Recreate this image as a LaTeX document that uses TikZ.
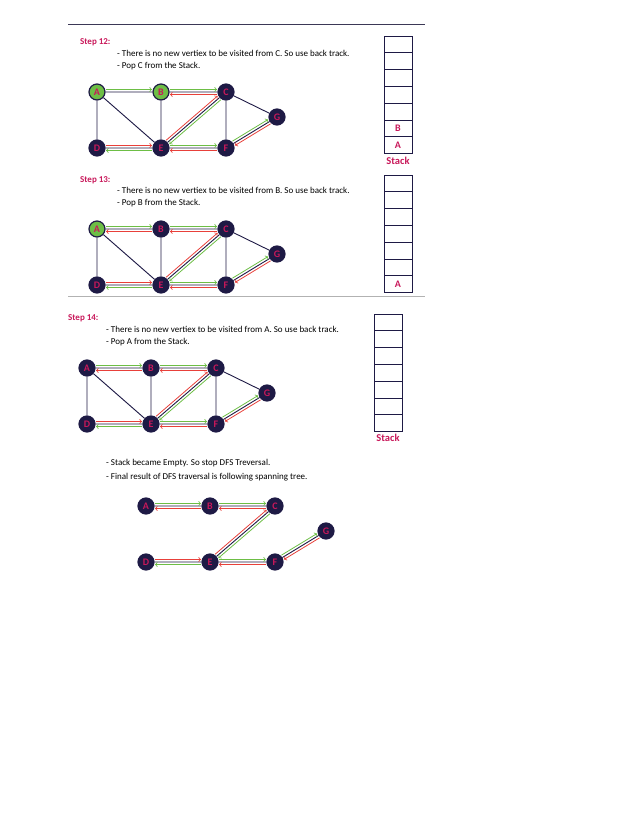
\documentclass[tikz,border=0pt]{standalone}
\usepackage{fontspec}
\setmainfont{Carlito}
\usetikzlibrary{calc}
\definecolor{crim}{HTML}{C8185A}
\definecolor{navy}{HTML}{1E1A45}
\definecolor{grn}{HTML}{6DBE45}
\definecolor{rd}{HTML}{E8403A}
\tikzset{
 vtx/.style={circle,draw=navy,line width=1.2pt,fill=navy,minimum size=16pt,inner sep=0pt,text=crim,font=\bfseries\fontsize{10}{10}\selectfont},
 vis/.style={vtx,fill=grn},
 edg/.style={navy,line width=0.9pt},
 tarr/.style={->,line width=0.8pt,shorten >=9pt,shorten <=9pt},
 txt/.style={anchor=west,font=\fontsize{9}{10}\selectfont,inner sep=0pt},
 stp/.style={anchor=west,font=\bfseries\fontsize{9}{10}\selectfont,text=crim,inner sep=0pt},
 cell/.style={draw=navy,line width=0.9pt,minimum width=28pt,minimum height=16.8pt,inner sep=0pt,text=crim,font=\bfseries\fontsize{10}{10}\selectfont},
 stk/.style={text=crim,font=\bfseries\fontsize{10.5}{10}\selectfont}
}
\newcommand\prr[4]{\draw[tarr,#3] ($(#1)!2.5pt!90:(#2)$) -- ($(#2)!2.5pt!-90:(#1)$);}
\newcommand\dfsg[7]{%
\begin{scope}[shift={(#2,#3)}]
 \node[#4] (#1A) at (0,0) {A};
 \node[#5] (#1B) at (64,0) {B};
 \node[vtx] (#1C) at (129,0) {C};
 \node[vtx] (#1G) at (180,25) {G};
 \node[vtx] (#1D) at (0,56) {D};
 \node[vtx] (#1E) at (64,56) {E};
 \node[vtx] (#1F) at (129,56) {F};
\end{scope}
 \draw[edg] (#1A)--(#1B) (#1B)--(#1C) (#1C)--(#1E) (#1D)--(#1E) (#1E)--(#1F) (#1F)--(#1G);
 \ifnum#7=1 \draw[edg] (#1A)--(#1D) (#1A)--(#1E) (#1B)--(#1E) (#1C)--(#1F) (#1C)--(#1G);\fi
 \prr{#1A}{#1B}{grn}{}\prr{#1B}{#1C}{grn}{}\prr{#1C}{#1E}{grn}{}\prr{#1E}{#1D}{grn}{}\prr{#1E}{#1F}{grn}{}\prr{#1F}{#1G}{grn}{}
 \prr{#1C}{#1B}{rd}{}\prr{#1E}{#1C}{rd}{}\prr{#1D}{#1E}{rd}{}\prr{#1F}{#1E}{rd}{}\prr{#1G}{#1F}{rd}{}
 \ifnum#6=1 \prr{#1B}{#1A}{rd}{}\fi
}
\begin{document}
\begin{tikzpicture}[x=1pt,y=-1pt]
\useasboundingbox (0,0) rectangle (638,826);
\draw[navy!70!gray,line width=0.8pt] (68,24) coordinate (l1) -- (425,24) coordinate (l2);
\draw[gray!60,line width=0.8pt] (68,296) coordinate (m1) -- (425,296) coordinate (m2);
% step 12
\node[stp] (s12) at (80,42) {Step 12:};
\node[txt] (t12a) at (117,53) {- There is no new vertiex to be visited from C. So use back track.};
\node[txt] (t12b) at (117,66) {- Pop C from the Stack.};
\dfsg{a}{97}{92}{vis}{vis}{0}{1}
\foreach \i/\l in {1/,2/,3/,4/,5/,6/B,7/A} \node[cell] (ca\i) at (398,{36+(\i-0.5)*16.8}) {\l};
\node[stk] (ka) at (398,161) {Stack};
% step 13
\node[stp] (s13) at (80,180) {Step 13:};
\node[txt] (t13a) at (117,190) {- There is no new vertiex to be visited from B. So use back track.};
\node[txt] (t13b) at (117,203) {- Pop B from the Stack.};
\dfsg{b}{97}{229}{vis}{vtx}{1}{1}
\foreach \i/\l in {1/,2/,3/,4/,5/,6/,7/A} \node[cell] (cb\i) at (398,{175+(\i-0.5)*16.8}) {\l};
% step 14
\node[stp] (s14) at (68,318) {Step 14:};
\node[txt] (t14a) at (106,329) {- There is no new vertiex to be visited from A. So use back track.};
\node[txt] (t14b) at (106,342) {- Pop A from the Stack.};
\dfsg{c}{87}{368}{vtx}{vtx}{1}{1}
\foreach \i/\l in {1/,2/,3/,4/,5/,6/,7/} \node[cell] (cc\i) at (388,{314+(\i-0.5)*16.8}) {\l};
\node[stk] (kc) at (388,438) {Stack};
\node[txt] (t15a) at (106,463) {- Stack became Empty. So stop DFS Treversal.};
\node[txt] (t15b) at (106,477) {- Final result of DFS traversal is following spanning tree.};
\dfsg{d}{146}{506}{vtx}{vtx}{1}{0}
\end{tikzpicture}
\end{document}
